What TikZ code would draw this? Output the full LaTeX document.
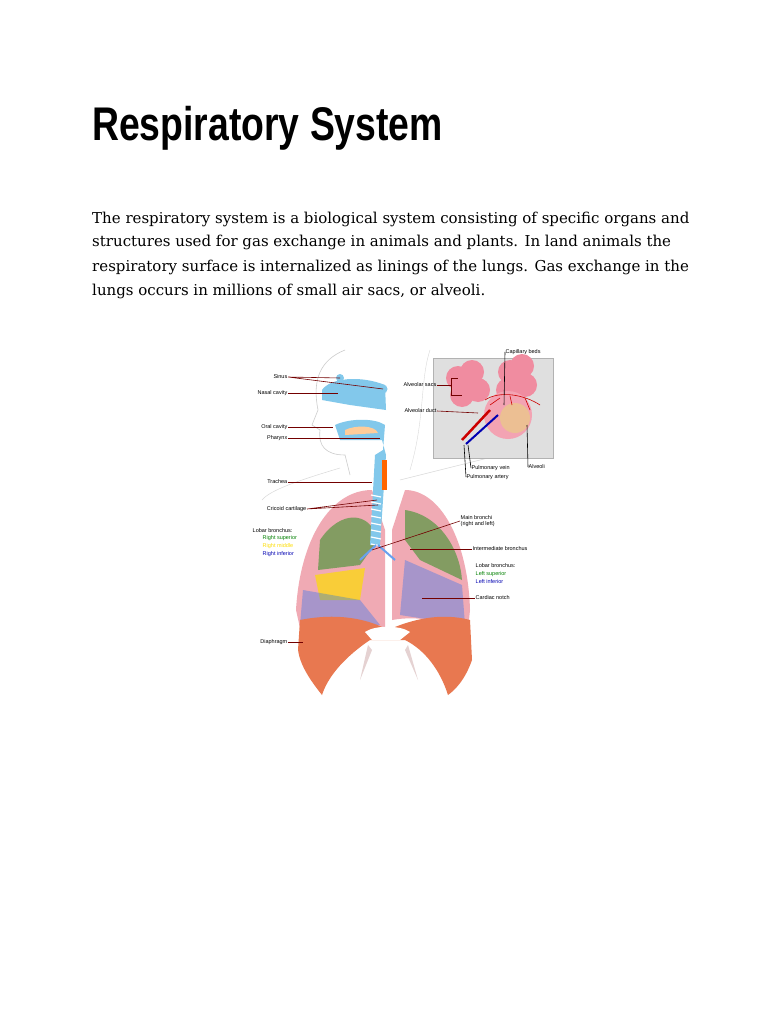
\documentclass[tikz,border=0pt]{standalone}
\usepackage{fontspec}
\setmainfont{DejaVu Serif}
\newfontfamily\lab{Liberation Sans}
\newfontfamily\ttl{Liberation Sans}
\definecolor{air}{RGB}{130,200,235}
\definecolor{lung}{RGB}{240,170,180}
\definecolor{dia}{RGB}{232,120,80}
\definecolor{sac}{RGB}{240,140,160}
\begin{document}
\begin{tikzpicture}[x=1pt,y=-1pt,
  lbl/.style={font=\lab\fontsize{5.5}{6}\selectfont,inner sep=0.5pt},
  body/.style={font=\fontsize{15}{17}\selectfont,anchor=base west,inner sep=0},
  ptr/.style={draw=red!45!black,line width=0.6pt}]
\useasboundingbox (0,0) rectangle (768,1024);
\fill[white] (0,0) rectangle (768,1024);
\node[anchor=base west,inner sep=0,xscale=0.83,yscale=1.05,font=\ttl\bfseries\fontsize{45}{47}\selectfont] (title) at (92,141) {Respiratory System};
\node[body] (l1) at (92,223) {The respiratory system is a biological system consisting of specific organs and};
\node[body] (l2) at (92,247) {structures used for gas exchange in animals and plants. In land animals the};
\node[body] (l3) at (92,271) {respiratory surface is internalized as linings of the lungs. Gas exchange in the};
\node[body] (l4) at (92,295) {lungs occurs in millions of small air sacs, or alveoli.};
% head outline
\draw[gray!40,line width=0.6pt] (345,350) .. controls (320,360) and (312,380) .. (318,410) -- (312,425) -- (320,430) .. controls (318,445) and (325,455) .. (345,455) -- (350,475);
\draw[gray!30,line width=0.5pt] (340,468) .. controls (300,480) and (270,490) .. (262,500);
\draw[gray!30,line width=0.5pt] (400,480) .. controls (440,470) and (480,460) .. (520,450);
\draw[gray!30] (430,350) .. controls (420,380) and (425,420) .. (410,470);
% lungs
\fill[lung] (372,490) .. controls (330,490) and (300,540) .. (296,610) -- (300,628) .. controls (330,625) and (360,620) .. (385,630) -- (385,530) -- cycle;
\fill[lung] (405,490) .. controls (440,490) and (468,540) .. (470,610) -- (468,630) .. controls (440,622) and (420,615) .. (392,620) -- (392,530) -- cycle;
\fill[green!55!black,opacity=0.45] (320,540) .. controls (340,510) and (370,510) .. (378,540) -- (360,565) -- (318,570) -- cycle;
\fill[yellow!80!orange,opacity=0.7] (315,575) -- (365,568) -- (360,600) -- (320,600) -- cycle;
\fill[blue!60!cyan,opacity=0.3] (303,590) -- (360,600) -- (380,625) -- (300,625) -- cycle;
\fill[green!55!black,opacity=0.45] (405,510) .. controls (440,515) and (460,550) .. (462,580) -- (420,560) -- (405,540) -- cycle;
\fill[blue!60!cyan,opacity=0.3] (405,560) -- (462,585) -- (465,625) -- (400,615) -- cycle;
% diaphragm
\fill[dia] (300,620) .. controls (340,612) and (370,620) .. (388,630) .. controls (410,620) and (440,612) .. (470,620) -- (472,660) .. controls (465,680) and (455,690) .. (448,695) .. controls (440,670) and (425,650) .. (405,640) -- (370,640) .. controls (355,650) and (330,670) .. (322,695) .. controls (310,680) and (300,665) .. (298,650) -- cycle;
\fill[white] (365,632) .. controls (375,625) and (400,625) .. (410,632) -- (400,640) -- (372,640) -- cycle;
\fill[pink!60!gray!50] (368,645) -- (360,680) -- (372,650) -- cycle;
\fill[pink!60!gray!50] (408,645) -- (418,680) -- (405,650) -- cycle;
% airways
\fill[air] (322,390) .. controls (330,378) and (360,375) .. (385,385) -- (386,410) -- (350,405) -- (322,400) -- cycle;
\fill[air] (340,378) circle (4);
\fill[air] (383,389) circle (4.5);
\fill[air] (335,425) .. controls (350,418) and (375,418) .. (385,425) -- (383,450) -- (375,455) -- (370,545) -- (380,545) -- (386,455) -- (382,440) -- (340,440) -- cycle;
\fill[orange!40!white] (345,430) .. controls (355,425) and (375,425) .. (378,433) -- (345,435) -- cycle;
\fill[orange!80!red] (382,460) rectangle (387,490);
\foreach \y in {495,502,...,545} \draw[white,line width=1.2pt] (371,\y) -- (381,\y+2);
\draw[air!80!blue,line width=2pt] (376,545) -- (360,560) (378,545) -- (395,560);
% inset
\fill[gray!25] (433,358) rectangle (553,458);
\draw[gray!60,line width=0.5pt] (433,358) rectangle (553,458);
\foreach \cx/\cy in {458/378,472/372,462/395,478/390,510/372,525/385,522/366,508/390} \fill[sac] (\cx,\cy) circle (12);
\fill[sac!80!white] (508,415) circle (24);
\fill[orange!40!brown!50] (515,418) circle (15);
\draw[red!80!black,line width=0.6pt] (485,400) .. controls (500,390) and (525,395) .. (540,405);
\draw[red!80!black,line width=0.6pt] (490,405) -- (500,398) (510,396) -- (512,405) (525,398) -- (530,410);
\draw[red!80!black,line width=2.5pt] (462,440) -- (490,410);
\draw[blue!70!black,line width=2pt] (466,444) -- (498,415);
% pointers
\node[lbl,anchor=east] (sinus) at (288,377) {Sinus};
\node[lbl,anchor=east] (nasal) at (288,393) {Nasal cavity};
\node[lbl,anchor=east] (oral) at (288,427) {Oral cavity};
\node[lbl,anchor=east] (phar) at (288,438) {Pharynx};
\node[lbl,anchor=east] (trach) at (288,482) {Trachea};
\node[lbl,anchor=east] (cric) at (307,509) {Cricoid cartilage};
\node[lbl,anchor=west] at (252,531) {Lobar bronchus:};
\node[lbl,anchor=west,text=green!50!black] at (262,538) {Right superior};
\node[lbl,anchor=west,text=yellow!80!orange] at (262,546) {Right middle};
\node[lbl,anchor=west,text=blue!70!black] at (262,554) {Right inferior};
\node[lbl,anchor=east] (dia) at (288,642) {Diaphragm};
\node[lbl,anchor=west,align=left] (mainb) at (460,521) {Main bronchi\\(right and left)};
\node[lbl,anchor=west] (inter) at (472,549) {Intermediate bronchus};
\node[lbl,anchor=west] at (475,566) {Lobar bronchus:};
\node[lbl,anchor=west,text=green!50!black] at (475,574) {Left superior};
\node[lbl,anchor=west,text=blue!70!black] at (475,582) {Left inferior};
\node[lbl,anchor=west] (card) at (475,598) {Cardiac notch};
\node[lbl,anchor=east] (sacs) at (437,385) {Alveolar sacs};
\node[lbl,anchor=east] (duct) at (437,411) {Alveolar duct};
\node[lbl,anchor=west] (cap) at (505,352) {Capillary beds};
\node[lbl,anchor=west] (pv) at (471,468) {Pulmonary vein};
\node[lbl,anchor=west] (pa) at (466,477) {Pulmonary artery};
\node[lbl,anchor=west] (alv) at (528,467) {Alveoli};
\coordinate (s1) at (340,378); \coordinate (s2) at (383,389);
\draw[ptr] (sinus.east) -- (s1) (sinus.east) -- (s2);
\draw[ptr] (nasal.east) -- (338,393);
\draw[ptr] (oral.east) -- (333,427);
\draw[ptr] (phar.east) -- (380,438);
\draw[ptr] (trach.east) -- (372,482);
\draw[ptr] (cric.east) -- (377,500) (cric.east) -- (378,505);
\draw[ptr] (dia.east) -- (303,642);
\draw[ptr] (mainb.west) -- (372,550);
\draw[ptr] (inter.west) -- (410,549);
\draw[ptr] (card.west) -- (422,598);
\draw[ptr] (sacs.east) -- (451,385);
\draw[ptr] (451,378) -- (451,395) (451,378) -- (458,378) (451,395) -- (462,395);
\draw[ptr] (duct.east) -- (478,413);
\draw[ptr,black] (cap.west) -- (504,405);
\draw[ptr,black] (pv.west) -- (468,445);
\draw[ptr,black] (pa.west) -- (464,445);
\draw[ptr,black] (alv.west) -- (527,425);
\end{tikzpicture}
\end{document}
